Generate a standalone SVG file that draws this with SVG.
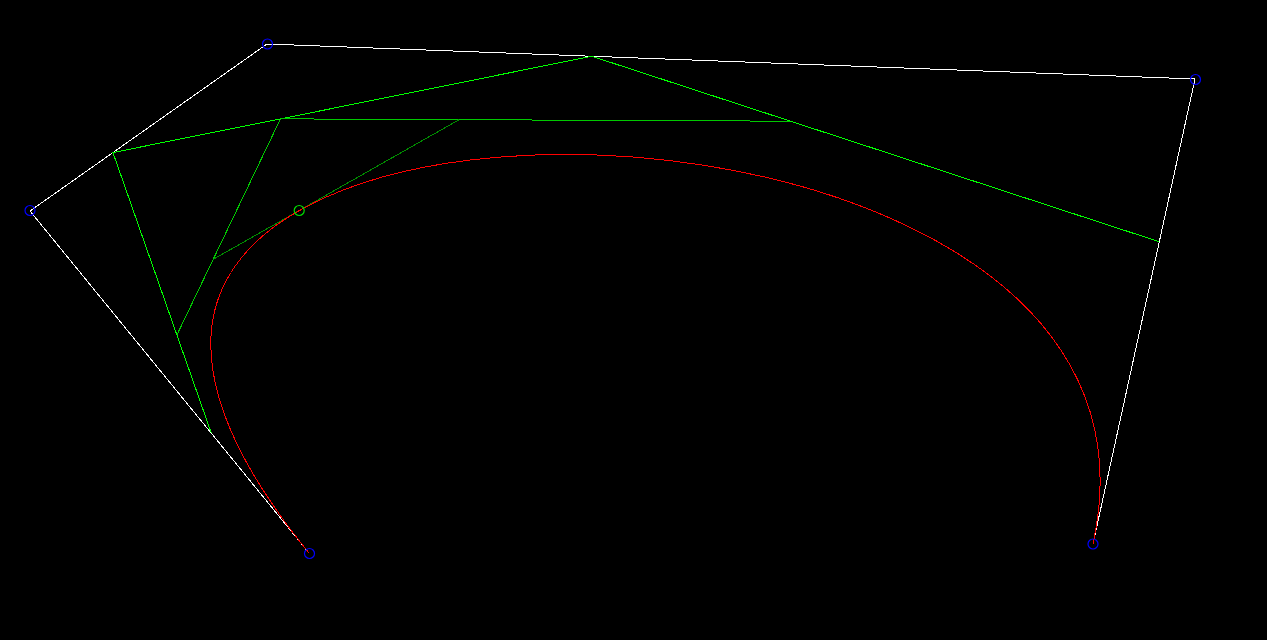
<svg xmlns="http://www.w3.org/2000/svg" width="1267" height="640" viewBox="0 0 1267 640">
<style>
.poly{fill:none;stroke:#ffffff;stroke-width:1;shape-rendering:crispEdges}
.l1{fill:none;stroke:#00ff00;stroke-width:1;shape-rendering:crispEdges}
.l2{fill:none;stroke:#00c800;stroke-width:1;shape-rendering:crispEdges}
.l3{fill:none;stroke:#008c00;stroke-width:1;shape-rendering:crispEdges}
.curve{fill:none;stroke:#ff0000;stroke-width:1;shape-rendering:crispEdges}
.cp{fill:none;stroke:#0000ff;stroke-width:1.2}
.pt{fill:none;stroke:#00e000;stroke-width:1.2}
</style>
<rect width="1267" height="640" fill="#000000"/>
<g id="connectors">
<polyline class="poly" points="309,553 30,211 267,44 1195,79 1093,544"/>
<polyline class="l1" points="211.35,433.3 112.95,152.55 591.8,56.25 1159.3,241.75"/>
<polyline class="l2" points="176.9,335 280.5,118.85 790.5,121.2"/>
<polyline class="l3" points="213.1,259.4 459.1,119.7"/>
<path class="curve" d="M309,553 C216,439 189.97,346.61 227.03,279.1 C264.09,211.58 364.25,168.94 494,157.56 C623.75,146.19 783.09,166.08 908.91,226.79 C1034.72,287.49 1127,389 1093,544"/>
</g>
<g id="p0"><circle class="cp" cx="309.5" cy="553.5" r="5"/></g>
<g id="p1"><circle class="cp" cx="30" cy="210.5" r="5"/></g>
<g id="p2"><circle class="cp" cx="267.5" cy="44" r="5"/></g>
<g id="p3"><circle class="cp" cx="1195.5" cy="79.5" r="5"/></g>
<g id="p4"><circle class="cp" cx="1093" cy="544" r="5"/></g>
<g id="t"><circle class="pt" cx="299.2" cy="210.5" r="5"/></g>
</svg>
